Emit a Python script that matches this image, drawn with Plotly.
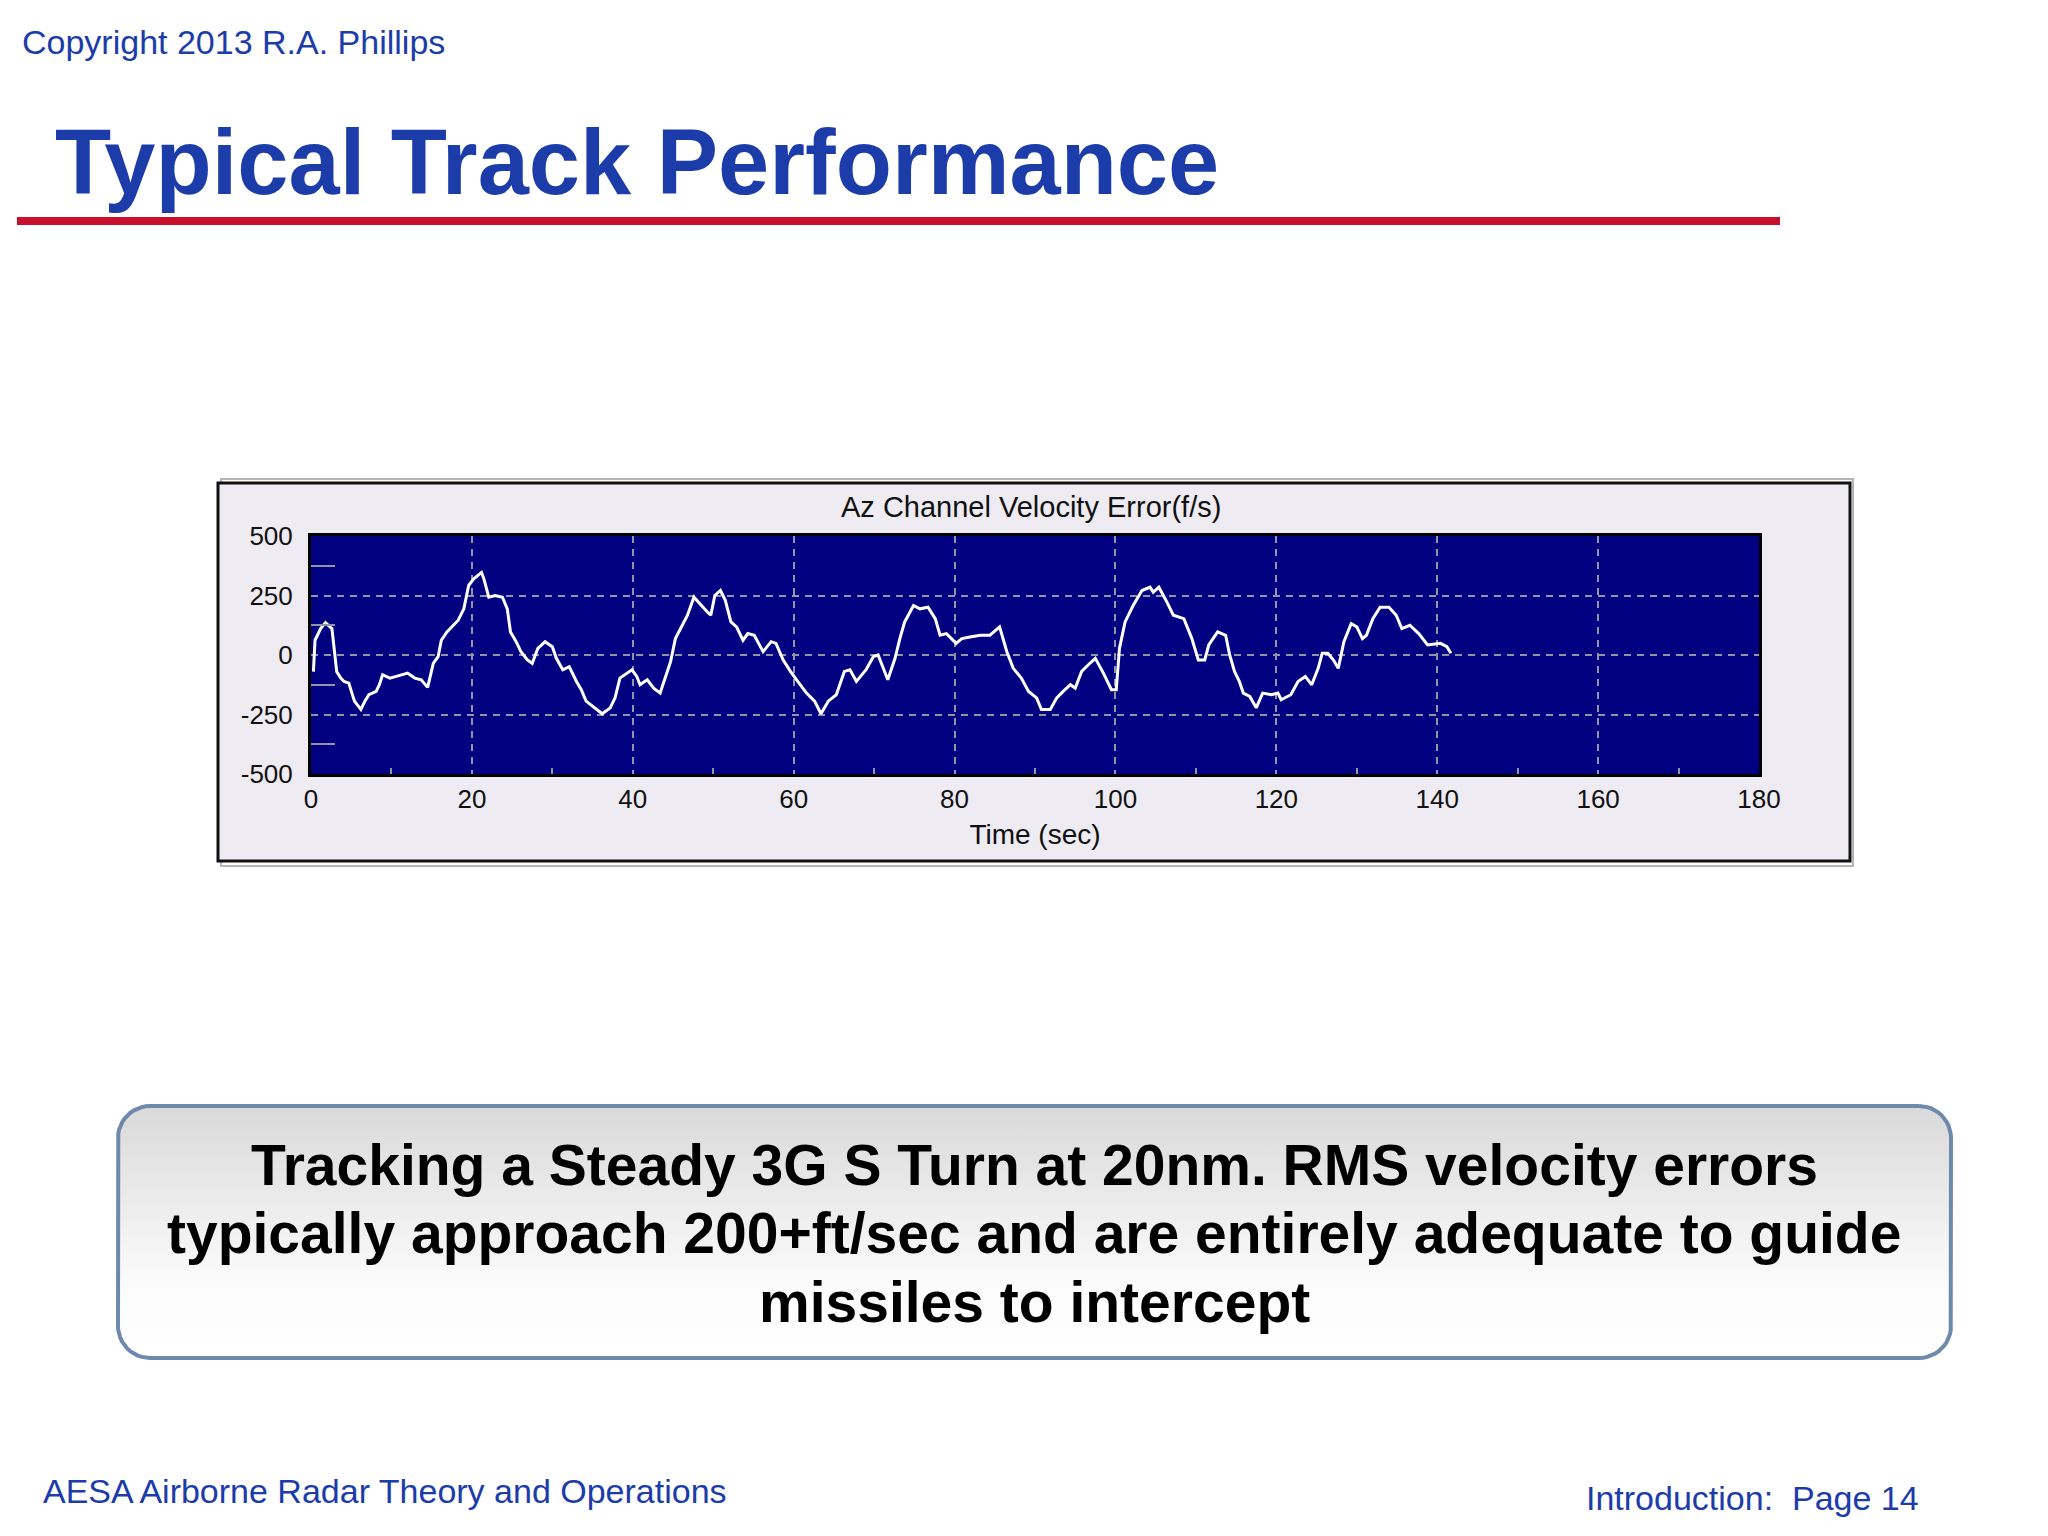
import math
import plotly.graph_objects as go

# ---------------- data ----------------
time_s = [0.3, 0.5, 0.8, 1.2, 1.8, 2.6, 3.2, 3.7, 4.1, 4.7, 5.4, 6.2, 6.7, 7.2, 8.1, 8.5, 8.9, 9.8,
          10.6, 12.0, 12.9, 13.7, 14.5, 14.8, 15.2, 15.8, 16.2, 16.9, 17.7, 18.3, 19.0, 19.6, 20.2,
          21.2, 21.5, 22.1, 22.9, 23.8, 24.4, 24.8, 25.5, 26.1, 26.9, 27.5, 28.2, 29.1, 30.0, 30.5,
          31.3, 32.1, 33.0, 33.6, 34.2, 35.3, 36.2, 37.2, 37.8, 38.4, 39.3, 39.9, 40.5, 40.9, 41.8,
          42.6, 43.4, 43.9, 44.7, 45.3, 45.9, 46.8, 47.6, 48.5, 49.3, 49.7, 50.2, 50.9, 51.5, 52.2,
          52.9, 53.7, 54.3, 55.1, 56.2, 57.2, 57.8, 58.7, 59.6, 60.5, 61.6, 62.6, 63.4, 64.3, 65.3,
          66.3, 67.0, 67.8, 69.0, 69.9, 70.5, 71.7, 72.6, 73.2, 73.8, 74.9, 75.7, 76.7, 77.6, 78.2,
          79.0, 80.2, 80.9, 81.9, 83.2, 84.4, 85.6, 86.5, 87.3, 88.3, 89.2, 90.2, 90.8, 91.9, 92.7,
          93.5, 94.4, 95.0, 95.8, 96.6, 97.5, 98.5, 99.5, 100.1, 100.5, 101.2, 102.2, 103.3, 104.3,
          104.7, 105.4, 106.4, 107.2, 108.5, 109.5, 110.3, 111.1, 111.6, 112.7, 113.7, 114.2, 114.8,
          115.4, 115.9, 116.7, 117.5, 118.3, 119.4, 120.2, 120.6, 121.8, 122.7, 123.6, 124.4, 125.2,
          125.7, 126.4, 127.1, 127.7, 128.4, 129.3, 130.0, 130.7, 131.2, 132.0, 132.9, 134.0, 134.9,
          135.6, 136.6, 137.7, 138.8, 140.4, 141.2, 141.7]
az_vel_err = [-70, 62, 83, 111, 136, 111, -70, -97, -111, -118, -194, -229, -194, -167, -153, -125, -83, -97,
              -90, -76, -97, -104, -136, -97, -35, -7, 62, 97, 125, 146, 194, 292, 319,
              347, 319, 243, 250, 243, 194, 97, 56, 14, -21, -35, 28, 56, 35, -14,
              -62, -49, -111, -146, -194, -222, -247, -222, -180, -97, -76, -62, -90, -125, -104,
              -139, -160, -111, -28, 69, 111, 167, 243, 208, 180, 167, 250, 271, 230, 139,
              118, 62, 90, 83, 14, 56, 49, -21, -69, -111, -160, -194, -247, -194, -167,
              -69, -62, -111, -62, -7, 0, -104, -14, 69, 139, 208, 194, 201, 153, 83,
              90, 49, 69, 76, 83, 83, 118, 14, -56, -97, -153, -180, -229, -229, -180,
              -153, -125, -139, -69, -42, -14, -76, -146, -146, 28, 139, 208, 271, 285,
              264, 285, 222, 167, 153, 69, -21, -21, 42, 97, 83, 0, -69,
              -111, -160, -174, -222, -160, -167, -160, -188, -167, -111, -90, -125, -56,
              7, 7, -21, -56, 56, 132, 118, 69, 83, 153, 201, 201, 167,
              111, 125, 90, 42, 49, 35, 7]

y_tick_vals = [-500, -250, 0, 250, 500]
y_tick_text = ["-500", "-250", "0", "250", "500"]
y_minor_vals = [-375, -125, 125, 375]
x_tick_vals = [0, 20, 40, 60, 80, 100, 120, 140, 160, 180]
x_minor_vals = [10, 30, 50, 70, 90, 110, 130, 150, 170]

chart_title = "Az Channel Velocity Error(f/s)"
x_title = "Time (sec)"
slide_title = "Typical Track Performance"
copyright_text = "Copyright 2013 R.A. Phillips"
box_lines = ["Tracking a Steady 3G S Turn at 20nm. RMS velocity errors",
             "typically approach 200+ft/sec and are entirely adequate to guide",
             "missiles to intercept"]
footer_left = "AESA Airborne Radar Theory and Operations"
footer_right = "Introduction:  Page 14"

# ---------------- layout helpers ----------------
W, H = 2048, 1536
BLUE = "#1c3caa"
FONT = "Liberation Sans"
GRID = "#9494a8"


def px(x):
    return x / W


def py(y):
    return 1 - y / H


# plot area (pixels)
PL, PR, PT, PB = 311, 1759, 536, 774

fig = go.Figure()

fig.add_trace(go.Scatter(x=time_s, y=az_vel_err, mode="lines",
                         line=dict(color="white", width=3), showlegend=False,
                         hoverinfo="x+y", xaxis="x", yaxis="y"))

# rounded text box with vertical gradient on a full-page pixel axis
bx0, bx1, by0, by1, r = 118, 1951, 1106, 1358, 32
pts_x, pts_y = [], []
corners = [(bx1 - r, by0 + r, -90, 0), (bx1 - r, by1 - r, 0, 90),
           (bx0 + r, by1 - r, 90, 180), (bx0 + r, by0 + r, 180, 270)]
for cx, cy, a0, a1 in corners:
    for k in range(13):
        a = math.radians(a0 + (a1 - a0) * k / 12)
        pts_x.append(cx + r * math.cos(a))
        pts_y.append(cy + r * math.sin(a))
pts_x.append(pts_x[0])
pts_y.append(pts_y[0])
fig.add_trace(go.Scatter(x=pts_x, y=pts_y, mode="lines", fill="toself",
                         fillgradient=dict(type="vertical", start=by0, stop=by1,
                                           colorscale=[[0, "#d9d9d9"], [0.7, "#fbfbfc"], [1, "#ffffff"]]),
                         line=dict(color="#6f89ad", width=4), showlegend=False,
                         hoverinfo="skip", xaxis="x2", yaxis="y2"))

shapes = [
    # red rule under title
    dict(type="rect", xref="paper", yref="paper", x0=px(17), x1=px(1780), y0=py(217), y1=py(225),
         fillcolor="#c8102e", line=dict(width=0), layer="below"),
    # frame shadow
    dict(type="rect", xref="paper", yref="paper", x0=px(221), x1=px(1853), y0=py(479), y1=py(866),
         fillcolor="rgba(0,0,0,0)", line=dict(color="#b4b4b8", width=2), layer="below"),
    # chart frame
    dict(type="rect", xref="paper", yref="paper", x0=px(218), x1=px(1850), y0=py(483), y1=py(861),
         fillcolor="#eeebf2", line=dict(color="#111111", width=3), layer="below"),
    # navy plotting area
    dict(type="rect", xref="x domain", yref="y domain", x0=0, x1=1, y0=0, y1=1,
         fillcolor="#000080", line=dict(width=0), layer="below"),
]

annotations = [
    dict(text=copyright_text, xref="paper", yref="paper", x=px(20), y=py(42), xanchor="left",
         yanchor="middle", showarrow=False, font=dict(family=FONT, size=34, color=BLUE)),
    dict(text="<b>" + slide_title + "</b>", xref="paper", yref="paper", x=px(53), y=py(162),
         xanchor="left", yanchor="middle", showarrow=False,
         font=dict(family=FONT, size=92, color=BLUE)),
    dict(text=chart_title, xref="paper", yref="paper", x=px(1031), y=py(507), xanchor="center",
         yanchor="middle", showarrow=False, font=dict(family=FONT, size=29, color="#111111")),
    dict(text=footer_left, xref="paper", yref="paper", x=px(41), y=py(1491), xanchor="left",
         yanchor="middle", showarrow=False, font=dict(family=FONT, size=34, color=BLUE)),
    dict(text=footer_right, xref="paper", yref="paper", x=px(1921), y=py(1498), xanchor="right",
         yanchor="middle", showarrow=False, font=dict(family=FONT, size=34, color=BLUE)),
]
for line, yc in zip(box_lines, [1165, 1233, 1302]):
    annotations.append(dict(text="<b>" + line + "</b>", xref="paper", yref="paper", x=px(1034),
                            y=py(yc), xanchor="center", yanchor="middle", showarrow=False,
                            font=dict(family=FONT, size=57, color="#000000")))

fig.update_layout(
    template="none",
    width=W, height=H,
    margin=dict(l=0, r=0, t=0, b=0, pad=0, autoexpand=False),
    paper_bgcolor="white",
    plot_bgcolor="rgba(0,0,0,0)",
    showlegend=False,
    shapes=shapes,
    annotations=annotations,
    xaxis=dict(domain=[px(PL), px(PR)], range=[0, 180], tickmode="array", tickvals=x_tick_vals,
               showgrid=True, gridcolor=GRID, griddash="7px,6px", gridwidth=2,
               zeroline=False, showline=True, mirror=True, linecolor="#000000", linewidth=3,
               ticks="", tickfont=dict(family=FONT, size=26, color="#111111"),
               title=dict(text=x_title, font=dict(family=FONT, size=28, color="#111111"), standoff=12),
               minor=dict(tickmode="array", tickvals=x_minor_vals, ticks="inside", ticklen=6,
                          tickcolor=GRID, tickwidth=2, showgrid=False),
               automargin=False, fixedrange=True, anchor="y"),
    yaxis=dict(domain=[py(PB), py(PT)], range=[-500, 500], tickmode="array", tickvals=y_tick_vals,
               ticktext=y_tick_text,
               showgrid=True, gridcolor=GRID, griddash="7px,6px", gridwidth=2,
               zeroline=False, showline=True, mirror=True, linecolor="#000000", linewidth=3,
               ticks="", tickfont=dict(family=FONT, size=26, color="#111111"), ticklabelstandoff=10,
               minor=dict(tickmode="array", tickvals=y_minor_vals, ticks="inside", ticklen=24,
                          tickcolor=GRID, tickwidth=2, showgrid=False),
               automargin=False, fixedrange=True, anchor="x"),
    xaxis2=dict(domain=[0, 1], range=[0, W], visible=False, anchor="y2", fixedrange=True,
                automargin=False, showgrid=False, zeroline=False),
    yaxis2=dict(domain=[0, 1], range=[H, 0], visible=False, anchor="x2", fixedrange=True,
                automargin=False, showgrid=False, zeroline=False),
)

fig.write_html("out.html")
